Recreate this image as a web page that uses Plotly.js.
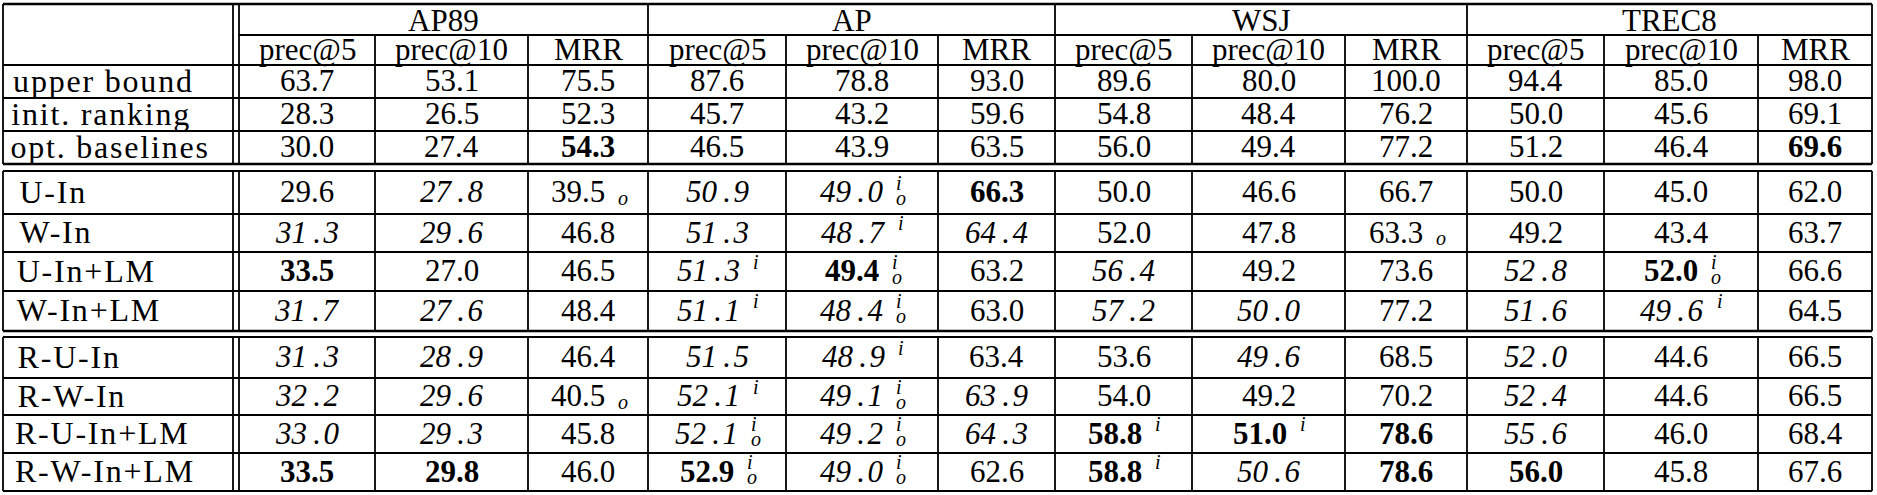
<!DOCTYPE html>
<html><head><meta charset="utf-8">
<script src="https://cdn.plot.ly/plotly-3.0.1.min.js"></script>
<style>html,body{margin:0;padding:0;background:#fff}#chart{width:1877px;height:495px}</style>
</head><body><div id="chart"></div>
<script>
// ---------------- data ----------------
const groups = ['AP89', 'AP', 'WSJ', 'TREC8'];
const metrics = ['prec@5', 'prec@10', 'MRR'];
const rowLabels = ['upper bound', 'init. ranking', 'opt. baselines',
  'U-In', 'W-In', 'U-In+LM', 'W-In+LM',
  'R-U-In', 'R-W-In', 'R-U-In+LM', 'R-W-In+LM'];

const upperBound   = [63.7, 53.1, 75.5, 87.6, 78.8, 93.0, 89.6, 80.0, 100.0, 94.4, 85.0, 98.0];
const initRanking  = [28.3, 26.5, 52.3, 45.7, 43.2, 59.6, 54.8, 48.4, 76.2, 50.0, 45.6, 69.1];
const optBaselines = [30.0, 27.4, 54.3, 46.5, 43.9, 63.5, 56.0, 49.4, 77.2, 51.2, 46.4, 69.6];
const uIn          = [29.6, 27.8, 39.5, 50.9, 49.0, 66.3, 50.0, 46.6, 66.7, 50.0, 45.0, 62.0];
const wIn          = [31.3, 29.6, 46.8, 51.3, 48.7, 64.4, 52.0, 47.8, 63.3, 49.2, 43.4, 63.7];
const uInLM        = [33.5, 27.0, 46.5, 51.3, 49.4, 63.2, 56.4, 49.2, 73.6, 52.8, 52.0, 66.6];
const wInLM        = [31.7, 27.6, 48.4, 51.1, 48.4, 63.0, 57.2, 50.0, 77.2, 51.6, 49.6, 64.5];
const rUIn         = [31.3, 28.9, 46.4, 51.5, 48.9, 63.4, 53.6, 49.6, 68.5, 52.0, 44.6, 66.5];
const rWIn         = [32.2, 29.6, 40.5, 52.1, 49.1, 63.9, 54.0, 49.2, 70.2, 52.4, 44.6, 66.5];
const rUInLM       = [33.0, 29.3, 45.8, 52.1, 49.2, 64.3, 58.8, 51.0, 78.6, 55.6, 46.0, 68.4];
const rWInLM       = [33.5, 29.8, 46.0, 52.9, 49.0, 62.6, 58.8, 50.6, 78.6, 56.0, 45.8, 67.6];
const tableValues = [upperBound, initRanking, optBaselines, uIn, wIn, uInLM, wInLM, rUIn, rWIn, rUInLM, rWInLM];

// significance markers per cell ('' none, 'i' superscript i, 'o' subscript o, 'io' both)
const marks = [
  ['', '', '', '', '', '', '', '', '', '', '', ''],
  ['', '', '', '', '', '', '', '', '', '', '', ''],
  ['', '', '', '', '', '', '', '', '', '', '', ''],
  ['', '', 'o', '', 'io', '', '', '', '', '', '', ''],
  ['', '', '', '', 'i', '', '', '', 'o', '', '', ''],
  ['', '', '', 'i', 'io', '', '', '', '', '', 'io', ''],
  ['', '', '', 'i', 'io', '', '', '', '', '', 'i', ''],
  ['', '', '', '', 'i', '', '', '', '', '', '', ''],
  ['', '', 'o', 'i', 'io', '', '', '', '', '', '', ''],
  ['', '', '', 'io', 'io', '', 'i', 'i', '', '', '', ''],
  ['', '', '', 'io', 'io', '', 'i', '', '', '', '', '']
];

// ---------------- styles (n normal, i italic, b bold) ----------------
const cellStyles = [
  'nnnnnnnnnnnn',
  'nnnnnnnnnnnn',
  'nnbnnnnnnnnb',
  'niniibnnnnnn',
  'iiniiinnnnnn',
  'bnnibninnibn',
  'iiniiniiniin',
  'iiniinnininn',
  'iiniiinnninn',
  'iiniiibbbinn',
  'bbnbinbibbnn'
];

const FONT = '"Liberation Serif", "DejaVu Serif", serif';
const SIZE = 31;
const LABEL_SIZE = 32;
const MARK_SIZE = 20;

// ---------------- geometry ----------------
const xLeft = 3, xDbl1 = 233, xDbl2 = 239, xRight = 1872, xLabel = 22;
const colEdges = [239, 375, 528, 648, 786, 938, 1055, 1192, 1345, 1467, 1604, 1758, 1872];
const groupEdgeIdx = [0, 3, 6, 9, 12];
const yTop = 4, yGroupLine = 35, ySubLine = 65;
const rowEdges = [[65, 98], [98, 131], [131, 164], [171, 214], [214, 252], [252, 291], [291, 331], [337, 378], [378, 415], [415, 453], [453, 491]];
const blocks = [[4, 164], [171, 331], [337, 491]];

// ---------------- helpers ----------------
const cv = document.createElement('canvas').getContext('2d');
function measure(txt, style, size) {
  cv.font = (style === 'i' ? 'italic ' : '') + (style === 'b' ? 'bold ' : '') + size + 'px ' + FONT;
  return cv.measureText(txt).width;
}
function plainText(v, style) {
  const s = v.toFixed(1);
  return style === 'i' ? s.replace('.', '\u2009.\u200A') : s;
}
function wrap(s, style) {
  if (style === 'i') return '<i>' + s + '</i>';
  if (style === 'b') return '<b>' + s + '</b>';
  return s;
}

const shapes = [];
function hline(y, x0, x1, w) { shapes.push({type: 'line', xref: 'x', yref: 'y', x0: x0, x1: x1, y0: y, y1: y, line: {color: '#000', width: w}}); }
function vline(x, y0, y1, w) { shapes.push({type: 'line', xref: 'x', yref: 'y', x0: x, x1: x, y0: y0, y1: y1, line: {color: '#000', width: w}}); }

const W = 1.8, WT = 2.5;
hline(yTop, xLeft, xRight, WT);
hline(yGroupLine, xDbl2, xRight, W);
hline(ySubLine, xLeft, xRight, W);
rowEdges.forEach(r => {
  const thick = (r[1] === 164 || r[1] === 331);
  hline(r[1], xLeft, xRight, thick ? WT : W);
  if (r[0] === 171 || r[0] === 337) hline(r[0], xLeft, xRight, W);
});
blocks.forEach(b => {
  [xLeft, xDbl1, xDbl2, xRight].forEach(x => vline(x, b[0], b[1], W));
  groupEdgeIdx.slice(1, 4).forEach(gi => vline(colEdges[gi], b[0], b[1], W));
  colEdges.forEach((x, ci) => {
    if (groupEdgeIdx.indexOf(ci) === -1) vline(x, Math.max(b[0], yGroupLine), b[1], W);
  });
});

// ---------------- text ----------------
const ann = [];
function addText(text, x, y, xanchor, size) {
  ann.push({text: text, x: x, y: y, xref: 'x', yref: 'y', xanchor: xanchor, yanchor: 'middle',
    showarrow: false, borderpad: 0, font: {family: FONT, size: size || SIZE, color: '#000'}});
}
groups.forEach((g, gi) => {
  const x0 = colEdges[groupEdgeIdx[gi]], x1 = colEdges[groupEdgeIdx[gi + 1]];
  addText(g, (x0 + x1) / 2, 20, 'center');
});
for (let c = 0; c < 12; c++) {
  addText(metrics[c % 3], (colEdges[c] + colEdges[c + 1]) / 2, 49, 'center');
}
rowLabels.forEach((lab, r) => {
  const yc = (rowEdges[r][0] + rowEdges[r][1]) / 2 - 1;
  addText(lab, xLabel, yc, 'left', LABEL_SIZE);
  tableValues[r].forEach((v, c) => {
    const st = cellStyles[r][c];
    const pt = plainText(v, st);
    const nw = measure(pt, st, SIZE);
    const mk = marks[r][c];
    const mw = mk ? (mk.indexOf('o') >= 0 ? 9 : 6) : 0;
    const gap = mk ? 12 : 0;
    const cc = (colEdges[c] + colEdges[c + 1]) / 2;
    const left = cc - (nw + gap + mw) / 2;
    addText(wrap(pt, st), left + nw / 2, yc, 'center');
    if (mk.indexOf('i') >= 0) addText('<i>i</i>', left + nw + gap, yc - 9, 'left', MARK_SIZE);
    if (mk.indexOf('o') >= 0) addText('<i>o</i>', left + nw + gap, yc + 6, 'left', MARK_SIZE);
  });
});

const layout = {
  width: 1877, height: 495,
  margin: {l: 0, r: 0, t: 0, b: 0, pad: 0},
  paper_bgcolor: '#fff', plot_bgcolor: '#fff',
  showlegend: false,
  font: {family: FONT, color: '#000'},
  xaxis: {range: [0, 1877], visible: false, fixedrange: true},
  yaxis: {range: [495, 0], visible: false, fixedrange: true},
  shapes: shapes,
  annotations: ann
};
Plotly.newPlot('chart', [{type: 'scatter', x: [], y: [], mode: 'markers', hoverinfo: 'skip'}], layout, {staticPlot: true, displayModeBar: false})
  .then(() => {
    document.querySelectorAll('.annotation-text').forEach(t => {
      if (rowLabels.indexOf(t.textContent) >= 0) t.style.letterSpacing = '1.8px';
    });
  });
</script>
</body></html>
